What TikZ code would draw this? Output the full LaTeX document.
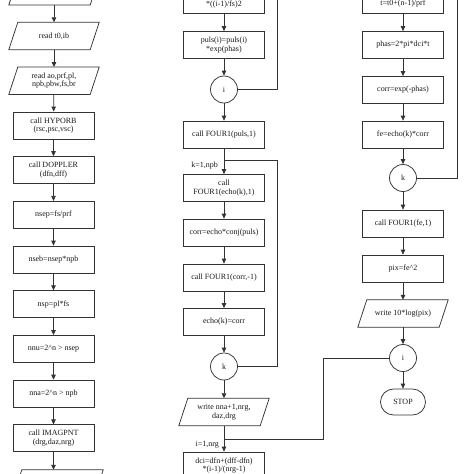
\documentclass[tikz,border=0pt]{standalone}
\usepackage{fontspec}
\setmainfont{Liberation Serif}
\usetikzlibrary{arrows.meta}
\newcommand\drawpara[1]{\draw[shapeline] ([xshift=-4.5pt]#1.south west) -- ([xshift=-4.5pt]#1.south east) -- ([xshift=4.5pt]#1.north east) -- ([xshift=4.5pt]#1.north west) -- cycle;}
\begin{document}
\begin{tikzpicture}[x=1pt,y=-1pt,
  every node/.style={font=\fontsize{8}{8.6}\selectfont, align=center, inner sep=0pt, text=black!90},
  shapeline/.style={line width=0.75pt, draw=black!80},
  procbox/.style={shapeline, minimum width=81pt, minimum height=27pt},
  iobox/.style={minimum width=81pt, minimum height=27pt},
  conn/.style={circle, shapeline, minimum size=27pt},
  term/.style={shapeline, rounded corners=13pt, minimum width=45pt, minimum height=26pt},
  flow/.style={line width=0.75pt, draw=black!80, -{Triangle[length=5pt,width=4.5pt]}},
  loopline/.style={line width=0.75pt, draw=black!80},
  lbl/.style={anchor=east}
]
\useasboundingbox (0,0) rectangle (474,474);
\clip (0,0) rectangle (474,474);

% column 1
\node[iobox] (c1p0) at (54,-8.7) {};
\node[iobox] (c1p1) at (54,36) {read t0,ib};
\node[iobox] (c1p2) at (54,80.7) {read ao,prf,pl,\\npb,pbw,fs,br};
\node[procbox] (c1b1) at (53.5,125.4) {call HYPORB\\(rsc,psc,vsc)};
\node[procbox] (c1b2) at (53.5,170.1) {call DOPPLER\\(dfn,dff)};
\node[procbox] (c1b3) at (53.5,214.8) {nsep=fs/prf};
\node[procbox] (c1b4) at (53.5,259.5) {nseb=nsep*npb};
\node[procbox] (c1b5) at (53.5,304.2) {nsp=pl*fs};
\node[procbox] (c1b6) at (53.5,348.9) {nnu=2\textasciicircum n > nsep};
\node[procbox] (c1b7) at (53.5,393.6) {nna=2\textasciicircum n > npb};
\node[procbox] (c1b8) at (53.5,438.3) {call IMAGPNT\\(drg,daz,nrg)};
\node[iobox] (c1p3) at (58,483.5) {};
\drawpara{c1p0}
\drawpara{c1p1}
\drawpara{c1p2}
\drawpara{c1p3}
\draw[flow] (c1p0) -- (c1p1);
\draw[flow] (c1p1) -- (c1p2);
\draw[flow] (c1p2) -- (c1b1);
\draw[flow] (c1b1) -- (c1b2);
\draw[flow] (c1b2) -- (c1b3);
\draw[flow] (c1b3) -- (c1b4);
\draw[flow] (c1b4) -- (c1b5);
\draw[flow] (c1b5) -- (c1b6);
\draw[flow] (c1b6) -- (c1b7);
\draw[flow] (c1b7) -- (c1b8);
\draw[flow] (c1b8.south) -- (c1b8.south |- c1p3.north);

% column 2
\node[procbox] (c2b0) at (224,-0.5) {};
\node (c2t0) at (224,5) {*((i-1)/fs)2};
\node[procbox] (c2b1) at (224,45) {puls(i)=puls(i)\\*exp(phas)};
\node[conn] (c2i) at (224,89.5) {i};
\node[procbox] (c2b2) at (224,134.5) {call FOUR1(puls,1)};
\coordinate (c2j1) at (224,160);
\node[procbox] (c2b3) at (224,188) {call\\FOUR1(echo(k),1)};
\node[procbox] (c2b4) at (224,232.5) {corr=echo*conj(puls)};
\node[procbox] (c2b5) at (224,277.5) {call FOUR1(corr,-1)};
\node[procbox] (c2b6) at (224,322) {echo(k)=corr};
\node[conn] (c2k) at (224,366.5) {k};
\node[iobox] (c2p) at (224,412) {write nna+1,nrg,\\daz,drg};
\drawpara{c2p}
\coordinate (c2j2) at (224,439);
\node[procbox] (c2b7) at (224,465.5) {dci=dfn+(dff-dfn)\\*(i-1)/(nrg-1)};
\draw[flow] (c2b0) -- (c2b1);
\draw[flow] (c2b1) -- (c2i);
\draw[flow] (c2i) -- (c2b2);
\draw[flow] (c2b2) -- (c2b3);
\draw[flow] (c2b3) -- (c2b4);
\draw[flow] (c2b4) -- (c2b5);
\draw[flow] (c2b5) -- (c2b6);
\draw[flow] (c2b6) -- (c2k);
\draw[flow] (c2k) -- (c2p);
\draw[flow] (c2p) -- (c2b7);
\coordinate (c2top) at (277,-10);
\draw[loopline] (c2i.east) -| (c2top);
\coordinate (c2r) at (277,160);
\draw[loopline] (c2k.east) -| (c2r) -- (c2j1);
\node[lbl] (lk) at (218,166) {k=1,npb};
\node[lbl] (li) at (219,444.5) {i=1,nrg};

% column 3
\node[procbox] (c3b0) at (403,-0.5) {};
\node (c3t0) at (403,4) {t=t0+(n-1)/prf};
\node[procbox] (c3b1) at (403,45) {phas=2*pi*dci*t};
\node[procbox] (c3b2) at (403,90) {corr=exp(-phas)};
\node[procbox] (c3b3) at (403,134.5) {fe=echo(k)*corr};
\node[conn] (c3k) at (403,178) {k};
\node[procbox] (c3b4) at (403,223.5) {call FOUR1(fe,1)};
\node[procbox] (c3b5) at (403,268.5) {pix=fe\textasciicircum 2};
\node[iobox] (c3p) at (403,313.5) {write 10*log(pix)};
\drawpara{c3p}
\node[conn] (c3i) at (403,358) {i};
\node[term] (c3s) at (403,402) {STOP};
\draw[flow] (c3b0) -- (c3b1);
\draw[flow] (c3b1) -- (c3b2);
\draw[flow] (c3b2) -- (c3b3);
\draw[flow] (c3b3) -- (c3k);
\draw[flow] (c3k) -- (c3b4);
\draw[flow] (c3b4) -- (c3b5);
\draw[flow] (c3b5) -- (c3p);
\draw[flow] (c3p) -- (c3i);
\draw[flow] (c3i) -- (c3s);
\coordinate (c3top) at (457,-10);
\draw[loopline] (c3k.east) -| (c3top);
\coordinate (c3l) at (323,439);
\draw[loopline] (c3i.west) -| (c3l) -- (c2j2);
\end{tikzpicture}
\end{document}
